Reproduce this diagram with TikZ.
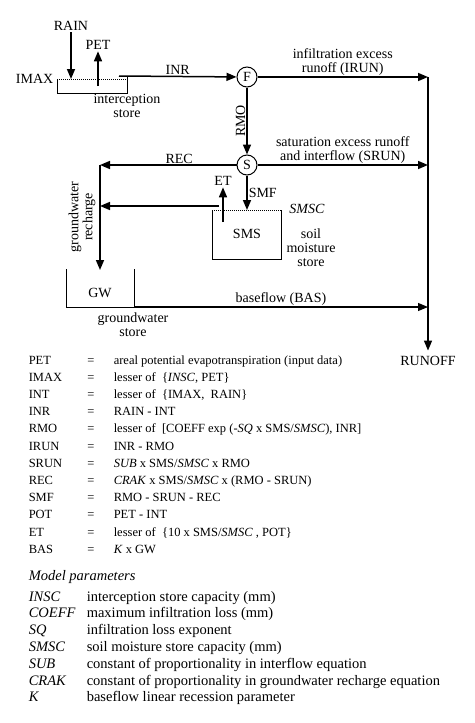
\documentclass[tikz,border=0pt]{standalone}
\usepackage{fontspec}
\setmainfont{Liberation Serif}
\usetikzlibrary{arrows.meta,positioning,calc}

\begin{document}
\begin{tikzpicture}[x=1pt,y=-1pt,>={Triangle[length=10pt,width=8pt]},
    line width=1.5pt,every node/.style={font=\fontsize{14}{14}\selectfont,inner sep=1pt}]
  \tikzstyle{junction}=[draw,circle,line width=1pt,minimum size=20pt,inner sep=0pt]
  \tikzstyle{store}=[line width=1pt]
  \tikzstyle{brim}=[line width=1pt,densely dotted]
  \tikzstyle{tabtext}=[anchor=base west,font=\fontsize{12.5}{14}\selectfont]
  \tikzstyle{partext}=[anchor=base west,font=\fontsize{14.5}{15}\selectfont]
  \useasboundingbox (0,0) rectangle (474,723);

  % interception store
  \draw[brim] (57,79) -- (127,79);
  \draw[store] (57,79) -- (57,93) -- (127,93) -- (127,76);
  \node (rain) at (71,26) {RAIN};
  \coordinate (rainin) at (71,79);
  \draw[->] (rain) -- (rainin);
  \node (pet) at (98,45) {PET};
  \coordinate (petout) at (98,86);
  \draw[->] (petout) -- (pet);
  \node[anchor=east] (imax) at (55,79) {IMAX};
  \node[align=center] (intlbl) at (127,106) {interception\\store};

  % routing
  \coordinate (inrstart) at (119,76);
  \node[junction] (F) at (247,77) {F};
  \node[junction] (S) at (247,165) {S};
  \coordinate (irunend) at (428,77);
  \coordinate (srunend) at (428,165);
  \coordinate (recend) at (100,165);
  \coordinate (gwin) at (100,270);
  \draw[->] (inrstart) -- node[above] {INR} (F);
  \draw[->] (F) -- node[above,align=center] {infiltration excess\\runoff (IRUN)} (irunend);
  \draw[->] (F) -- node[rotate=90,anchor=south] {RMO} (S);
  \draw[->] (S) -- node[above,align=center] {saturation excess runoff\\and interflow (SRUN)} (srunend);
  \draw[->] (S) -- node[above,pos=0.42] {REC} (recend);
  \draw[->] (recend) -- (gwin);
  \node[rotate=90,align=center] (rechlbl) at (82,217) {groundwater\\recharge};

  % soil moisture store
  \coordinate (smftop) at (247,210);
  \draw[->] (S) -- node[right] {SMF} (smftop);
  \draw[brim] (212,210) -- (281,210);
  \draw[store] (212,210) -- (212,259) -- (281,259) -- (281,210);
  \node (sms) at (247,234) {SMS};
  \node (smsc) at (307,209) {\textit{SMSC}};
  \node[align=center] (smslbl) at (311,248) {soil\\moisture\\store};
  \coordinate (etbase) at (223,222);
  \node (et) at (223,181) {ET};
  \draw[->] (etbase) -- (et);
  \coordinate (smsout) at (219,206);
  \coordinate (rechin) at (100,206);
  \draw[->] (smsout) -- (rechin);

  % groundwater store
  \draw[store] (66,269) -- (66,307) -- (134,307) -- (134,269);
  \node (gw) at (100,293) {GW};
  \node[align=center] (gwlbl) at (133,325) {groundwater\\store};
  \coordinate (basstart) at (134,307);
  \coordinate (basend) at (428,307);
  \draw[->,line width=1.1pt] (basstart) -- node[above] {baseflow (BAS)} (basend);
  \node (runoff) at (428,361) {RUNOFF};
  \draw[->,shorten >=4pt] (irunend) -- (runoff);

  % equations
  \foreach \lhs/\rhs [count=\i] in {
      {PET}/{areal potential evapotranspiration (input data)},
      {IMAX}/{lesser of \ \{\textit{INSC}, PET\}},
      {INT}/{lesser of \ \{IMAX, \ RAIN\}},
      {INR}/{RAIN - INT},
      {RMO}/{lesser of \ [COEFF exp (\textit{-SQ} x SMS/\textit{SMSC}), INR]},
      {IRUN}/{INR - RMO},
      {SRUN}/{\textit{SUB} x SMS/\textit{SMSC} x RMO},
      {REC}/{\textit{CRAK} x SMS/\textit{SMSC} x (RMO - SRUN)},
      {SMF}/{RMO - SRUN - REC},
      {POT}/{PET - INT},
      {ET}/{lesser of \ \{10 x SMS/\textit{SMSC} , POT\}},
      {BAS}/{\textit{K} x GW}} {
    \node[tabtext] (lhs\i) at (27,364+17.2*\i-17.2) {\lhs};
    \node[tabtext,anchor=base] (eq\i) at (91,364+17.2*\i-17.2) {=};
    \node[tabtext] (rhs\i) at (112,364+17.2*\i-17.2) {\rhs};
  }

  % parameters
  \node[partext] (modpar) at (27,580) {\textit{Model parameters}};
  \foreach \sym/\desc [count=\i] in {
      {INSC}/{interception store capacity (mm)},
      {COEFF}/{maximum infiltration loss (mm)},
      {SQ}/{infiltration loss exponent},
      {SMSC}/{soil moisture store capacity (mm)},
      {SUB}/{constant of proportionality in interflow equation},
      {CRAK}/{constant of proportionality in groundwater recharge equation},
      {K}/{baseflow linear recession parameter}} {
    \node[partext] (sym\i) at (27,601+16.8*\i-16.8) {\textit{\sym}};
    \node[partext] (desc\i) at (85,601+16.8*\i-16.8) {\desc};
  }
\end{tikzpicture}
\end{document}
